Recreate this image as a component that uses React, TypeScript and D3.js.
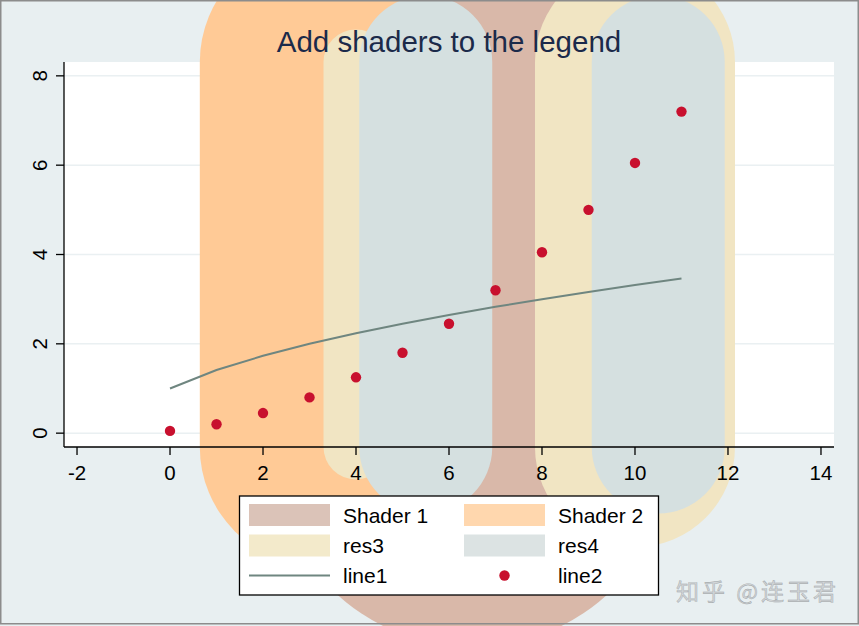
import React from 'react';
import * as d3 from 'd3';

// chart values
const xValues = [0, 1, 2, 3, 4, 5, 6, 7, 8, 9, 10, 11];
const line1Values = [1, 1.414, 1.732, 2, 2.236, 2.449, 2.646, 2.828, 3, 3.162, 3.317, 3.464];
const line2Values = [0.05, 0.2, 0.45, 0.8, 1.25, 1.8, 2.45, 3.2, 4.05, 5, 6.05, 7.2];
const xTicks = [-2, 0, 2, 4, 6, 8, 10, 12, 14];
const yTicks = [0, 2, 4, 6, 8];

// shader xline positions
const shader1Lines = [6.5];
const shader2Lines = [3.2];
const res3Lines = [4, 10];
const res4Lines = [5.5, 10.5];

const legendLabels = ['Shader 1', 'Shader 2', 'res3', 'res4', 'line1', 'line2'];

const W = 859;
const H = 626;
const FONT = "Arial, 'Liberation Sans', sans-serif";

const colors = {
  bg: '#E8EFF1',
  grid: '#EAF0F2',
  shader1: '#D9B8A9',
  shader2: '#FFCA96',
  res3: '#F1E5C3',
  res4: '#D5E0E0',
  line1: '#6F8680',
  line2: '#C8102E',
  title: '#1B2A4A',
};

const legendSwatch = {
  shader1: '#DBC3B8',
  shader2: '#FFD7AE',
  res3: '#F3EACB',
  res4: '#DCE3E3',
};

export default function App() {
  const margin = { left: 64, right: 834, top: 62, bottom: 447 };

  const x = d3.scaleLinear().domain([-2.28, 14.28]).range([margin.left, margin.right]);
  const y = d3.scaleLinear().domain([-0.31, 8.31]).range([margin.bottom, margin.top]);

  const line = d3
    .line<number>()
    .x((_, i) => x(xValues[i]))
    .y((d) => y(d));

  // thick round-capped xlines, widths in px
  const shaders = [
    { lines: shader1Lines, widths: [400], color: colors.shader1 },
    { lines: shader2Lines, widths: [238], color: colors.shader2 },
    { lines: res3Lines, widths: [65, 200], color: colors.res3 },
    { lines: res4Lines, widths: [133, 133], color: colors.res4 },
  ];

  const legendRows = [515, 545.5, 575.5];
  const col1 = 249;
  const col2 = 464;
  const swW = 81;
  const swH = 22;

  return (
    <div style={{ position: 'fixed', left: 0, top: 0 }}>
      <svg width={W} height={H} style={{ display: 'block' }}>
        <rect x={0} y={0} width={W} height={H} fill={colors.bg} />
        {/* plot region */}
        <rect
          x={margin.left}
          y={margin.top}
          width={margin.right - margin.left}
          height={margin.bottom - margin.top}
          fill="#fff"
        />
        {yTicks.map((t) => (
          <line
            key={'g' + t}
            x1={margin.left}
            x2={margin.right}
            y1={y(t)}
            y2={y(t)}
            stroke={colors.grid}
            strokeWidth={1.5}
          />
        ))}

        {/* shaders */}
        {shaders.map((s, si) =>
          s.lines.map((v, i) => (
            <line
              key={'s' + si + '-' + i}
              x1={x(v)}
              x2={x(v)}
              y1={margin.top}
              y2={margin.bottom}
              stroke={s.color}
              strokeWidth={s.widths[i]}
              strokeLinecap="round"
            />
          ))
        )}

        {/* axes */}
        <line x1={margin.left} x2={margin.left} y1={margin.top} y2={margin.bottom} stroke="#000" strokeWidth={1.3} />
        <line x1={margin.left} x2={margin.right} y1={margin.bottom} y2={margin.bottom} stroke="#000" strokeWidth={1.3} />
        {yTicks.map((t) => (
          <g key={'y' + t}>
            <line x1={margin.left - 8} x2={margin.left} y1={y(t)} y2={y(t)} stroke="#000" strokeWidth={1.3} />
            <text
              transform={`translate(47,${y(t)}) rotate(-90)`}
              textAnchor="middle"
              fontFamily={FONT}
              fontSize={20.5}
              fill="#000"
            >
              {t}
            </text>
          </g>
        ))}
        {xTicks.map((t) => (
          <g key={'x' + t}>
            <line x1={x(t)} x2={x(t)} y1={margin.bottom} y2={margin.bottom + 8} stroke="#000" strokeWidth={1.3} />
            <text x={x(t)} y={480} textAnchor="middle" fontFamily={FONT} fontSize={20.5} fill="#000">
              {t}
            </text>
          </g>
        ))}

        {/* series */}
        <path d={line(line1Values) || ''} fill="none" stroke={colors.line1} strokeWidth={2} />
        {line2Values.map((v, i) => (
          <circle key={'p' + i} cx={x(xValues[i])} cy={y(v)} r={5.2} fill={colors.line2} />
        ))}

        {/* title */}
        <text x={449} y={52} textAnchor="middle" fontFamily={FONT} fontSize={29.5} fill={colors.title}>
          Add shaders to the legend
        </text>

        {/* legend */}
        <rect x={239.5} y={496} width={419} height={99} fill="#fff" stroke="#000" strokeWidth={1.3} />
        <rect x={col1} y={legendRows[0] - swH / 2} width={swW} height={swH} fill={legendSwatch.shader1} />
        <rect x={col2} y={legendRows[0] - swH / 2} width={swW} height={swH} fill={legendSwatch.shader2} />
        <rect x={col1} y={legendRows[1] - swH / 2} width={swW} height={swH} fill={legendSwatch.res3} />
        <rect x={col2} y={legendRows[1] - swH / 2} width={swW} height={swH} fill={legendSwatch.res4} />
        <line x1={col1} x2={col1 + swW} y1={legendRows[2]} y2={legendRows[2]} stroke={colors.line1} strokeWidth={2} />
        <circle cx={col2 + swW / 2} cy={legendRows[2]} r={5.2} fill={colors.line2} />
        {legendLabels.map((lab, i) => (
          <text
            key={lab}
            x={i % 2 === 0 ? 343 : 558}
            y={legendRows[Math.floor(i / 2)] + 7.5}
            fontFamily={FONT}
            fontSize={21}
            fill="#000"
          >
            {lab}
          </text>
        ))}

        {/* watermark */}
        <text
          x={676}
          y={600}
          fontFamily="'Noto Sans CJK SC', sans-serif"
          fontSize={23}
          fill="#D2D6D8"
          stroke="#9AA0A3"
          strokeWidth={0.4}
          textLength={160}
        >
          知乎 @连玉君
        </text>

        {/* outer frame */}
        <rect x={0.75} y={0.75} width={W - 1.5} height={H - 3} fill="none" stroke="#8C8C8C" strokeWidth={1.5} />
      </svg>
    </div>
  );
}
